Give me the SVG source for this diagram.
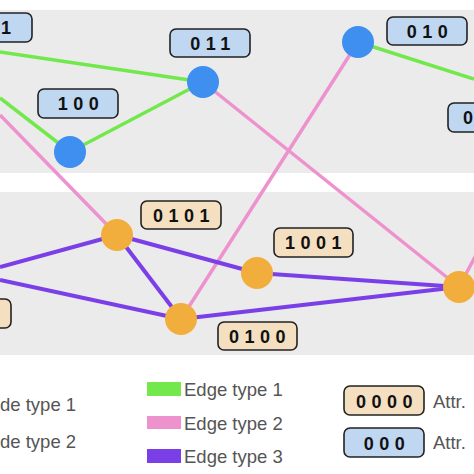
<svg xmlns="http://www.w3.org/2000/svg" width="474" height="474" viewBox="0 0 474 474">
<style>
.panel{fill:#ebebeb}
.e1{stroke:#72e84c;stroke-width:3.5;fill:none}
.e2{stroke:#ee92ce;stroke-width:3.5;fill:none}
.e3{stroke:#7b3fe8;stroke-width:4;fill:none}
.nb{fill:#3e8ff0}
.no{fill:#f2ae3c}
.lb{fill:#bfd7f1;stroke:#222;stroke-width:1.6}
.lo{fill:#f4dfc1;stroke:#222;stroke-width:1.6}
.lt{font-family:"Liberation Sans",Arial,Helvetica,sans-serif;font-size:18px;font-weight:bold;fill:#111;letter-spacing:5.5px;text-anchor:middle}
.leg{font-family:"Liberation Sans",Arial,Helvetica,sans-serif;font-size:18.5px;fill:#555}
</style>
<rect width="474" height="474" fill="#ffffff"/>
<rect class="panel" x="0" y="10" width="474" height="163"/>
<rect class="panel" x="0" y="192" width="474" height="163"/>
<g id="connectors">
<line class="e1" x1="0" y1="52" x2="203" y2="82"/>
<line class="e1" x1="0" y1="98" x2="70" y2="152"/>
<line class="e1" x1="70" y1="152" x2="203" y2="82"/>
<line class="e1" x1="358" y1="42" x2="474" y2="79"/>
<line class="e2" x1="0" y1="115" x2="117" y2="235"/>
<line class="e2" x1="203" y1="82" x2="459" y2="287"/>
<line class="e2" x1="181" y1="319" x2="358" y2="42"/>
<line class="e2" x1="459" y1="287" x2="476" y2="255"/>
<line class="e3" x1="0" y1="267" x2="117" y2="235"/>
<line class="e3" x1="0" y1="280" x2="181" y2="319"/>
<line class="e3" x1="117" y1="235" x2="181" y2="319"/>
<line class="e3" x1="117" y1="235" x2="257" y2="273"/>
<line class="e3" x1="257" y1="273" x2="459" y2="287"/>
<line class="e3" x1="181" y1="319" x2="459" y2="287"/>
</g>
<g id="node-100"><circle class="nb" cx="70" cy="152" r="16"/><rect class="lb" x="38" y="89" width="80" height="29" rx="6"/><text class="lt" x="81" y="110">100</text></g>
<g id="node-011"><circle class="nb" cx="203" cy="82" r="16"/><rect class="lb" x="170" y="29" width="80" height="28" rx="6"/><text class="lt" x="213" y="49.5">011</text></g>
<g id="node-010"><circle class="nb" cx="358" cy="42" r="16"/><rect class="lb" x="387" y="17" width="80" height="28" rx="6"/><text class="lt" x="430" y="37.5">010</text></g>
<g id="label-topleft"><rect class="lb" x="-48" y="13" width="80" height="29" rx="6"/><text class="lt" x="1" y="34" style="text-anchor:start">1</text></g>
<g id="label-right"><rect class="lb" x="448" y="103" width="80" height="29" rx="6"/><text class="lt" x="463" y="124" style="text-anchor:start;letter-spacing:0">0</text></g>
<g id="node-0101"><circle class="no" cx="117" cy="235" r="16"/><rect class="lo" x="141" y="201" width="80" height="28" rx="6"/><text class="lt" x="184" y="222">0101</text></g>
<g id="node-1001"><circle class="no" cx="257" cy="273" r="16"/><rect class="lo" x="274" y="228" width="79" height="29" rx="6"/><text class="lt" x="316" y="249">1001</text></g>
<g id="node-0100"><circle class="no" cx="181" cy="319" r="16"/><rect class="lo" x="218" y="322" width="79" height="28" rx="6"/><text class="lt" x="260" y="343">0100</text></g>
<g id="node-right"><circle class="no" cx="459" cy="287" r="16"/></g>
<g id="label-bottomleft"><rect class="lo" x="-69" y="299" width="80" height="29" rx="6"/></g>
<g id="legend">
<text class="leg" x="0" y="411">de type 1</text>
<text class="leg" x="0" y="448">de type 2</text>
<rect x="147" y="382" width="34" height="14" fill="#72e84c"/>
<rect x="147" y="416" width="34" height="13" fill="#ee92ce"/>
<rect x="147" y="449" width="34" height="14" fill="#7b3fe8"/>
<text class="leg" x="184" y="396">Edge type 1</text>
<text class="leg" x="184" y="430">Edge type 2</text>
<text class="leg" x="184" y="463">Edge type 3</text>
<rect class="lo" x="344" y="386" width="80" height="29" rx="6"/>
<text class="lt" x="387" y="408">0000</text>
<rect class="lb" x="344" y="428" width="80" height="29" rx="6"/>
<text class="lt" x="387" y="450">000</text>
<text class="leg" x="433" y="408">Attr.</text>
<text class="leg" x="433" y="449">Attr.</text>
</g>
</svg>
